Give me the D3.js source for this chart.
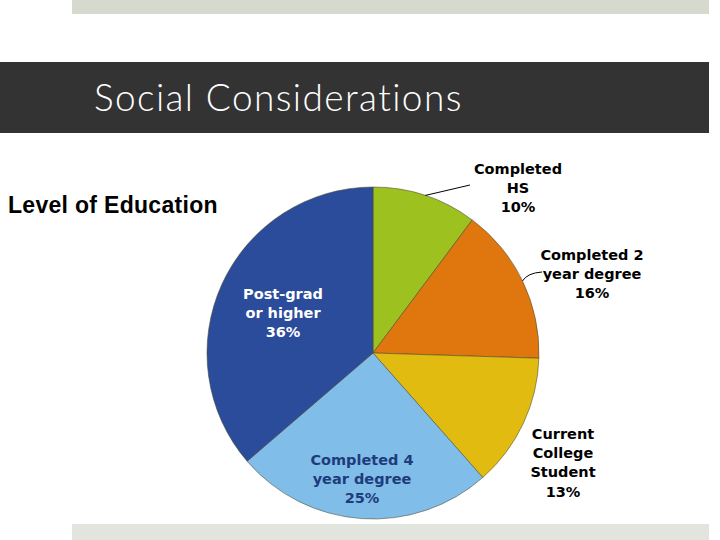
<!DOCTYPE html>
<html>
<head>
<meta charset="utf-8">
<script src="https://cdn.jsdelivr.net/npm/d3@7"></script>
<style>
  body { margin: 0; background: #fff; }
  svg { display: block; }
</style>
</head>
<body>
<svg id="chart" width="720" height="540"></svg>
<script>
// slice order: clockwise from 12 o'clock
var categories = ["Completed HS", "Completed 2 year degree", "Current College Student", "Completed 4 year degree", "Post-grad or higher"];
// slice sizes (labels show the rounded figures)
var values = [10.2, 15.3, 13.0, 25.2, 36.3];
var labelLines = [
  ["Completed", "HS", "10%"],
  ["Completed 2", "year degree", "16%"],
  ["Current", "College", "Student", "13%"],
  ["Completed 4", "year degree", "25%"],
  ["Post-grad", "or higher", "36%"]
];
var sliceColors = ["#9dc11f", "#e0760e", "#e2bb10", "#80bde9", "#2b4b9b"];

var svg = d3.select("#chart");

// slide decoration
svg.append("rect").attr("x", 72).attr("y", 0).attr("width", 637).attr("height", 14).attr("fill", "#d6d9ce");
svg.append("rect").attr("x", 0).attr("y", 62).attr("width", 709).attr("height", 71).attr("fill", "#333333");
svg.append("rect").attr("x", 72).attr("y", 524).attr("width", 637).attr("height", 16).attr("fill", "#e2e4de");

svg.append("text")
  .attr("x", 94).attr("y", 111)
  .attr("font-family", "Lato, 'Open Sans', sans-serif")
  .attr("font-weight", 300)
  .attr("font-size", "37px")
  .attr("letter-spacing", "1.4px")
  .attr("fill", "#ffffff")
  .text("Social Considerations");

svg.append("text")
  .attr("x", 8).attr("y", 213)
  .attr("font-family", "'Liberation Sans', Arial, sans-serif")
  .attr("font-weight", "bold")
  .attr("font-size", "23px")
  .attr("letter-spacing", "0.3px")
  .attr("fill", "#000")
  .text("Level of Education");

// pie
var cx = 373, cy = 353, r = 166;
var pie = d3.pie().sort(null).value(function(d) { return d; });
var arc = d3.arc().innerRadius(0).outerRadius(r);
var arcs = pie(values);

var g = svg.append("g").attr("transform", "translate(" + cx + "," + cy + ")");
g.selectAll("path").data(arcs).enter().append("path")
  .attr("d", arc)
  .attr("fill", function(d, i) { return sliceColors[i]; })
  .attr("stroke", "#4a4a30")
  .attr("stroke-opacity", 0.7)
  .attr("stroke-width", 0.8);

// label placement (centre x, first baseline y) and colours
var labelPos = [[518, 174], [592, 260], [563, 439], [362, 465], [283, 299]];
var labelFill = ["#000", "#000", "#000", "#1f3c7a", "#fff"];
var lineH = 19.2;

labelLines.forEach(function(lines, i) {
  var t = svg.append("text")
    .attr("text-anchor", "middle")
    .attr("font-family", "'DejaVu Sans', sans-serif")
    .attr("font-weight", "bold")
    .attr("font-size", "14.5px")
    .attr("fill", labelFill[i]);
  lines.forEach(function(s, k) {
    t.append("tspan").attr("x", labelPos[i][0]).attr("y", labelPos[i][1] + k * lineH).text(s);
  });
});

// leader lines for the two outside labels on the upper right
function edgePoint(a) {
  return [cx + r * Math.sin(a), cy - r * Math.cos(a)];
}
var hsMid = (arcs[0].startAngle + arcs[0].endAngle) / 2;
var p0 = edgePoint(hsMid);
svg.append("line")
  .attr("x1", p0[0]).attr("y1", p0[1])
  .attr("x2", 470).attr("y2", 185)
  .attr("stroke", "#000").attr("stroke-width", 1);

var twoMid = (arcs[1].startAngle + arcs[1].endAngle) / 2;
var p1 = edgePoint(twoMid);
svg.append("path")
  .attr("d", "M" + p1[0] + "," + p1[1] + " Q" + (p1[0] + 5) + "," + (p1[1] - 8) + " 542,272")
  .attr("fill", "none")
  .attr("stroke", "#000").attr("stroke-width", 1);
</script>
</body>
</html>
